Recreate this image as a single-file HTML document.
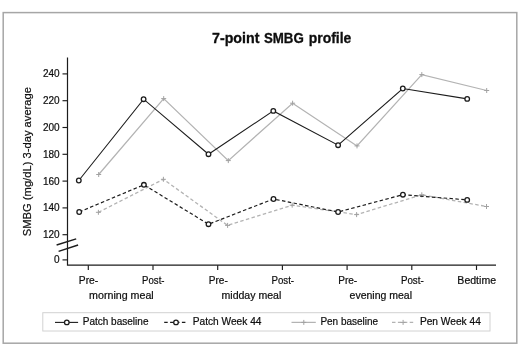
<!DOCTYPE html>
<html><head><meta charset="utf-8"><title>7-point SMBG profile</title>
<style>html,body{margin:0;padding:0;background:#fff}svg{display:block}text{font-family:"Liberation Sans",sans-serif;fill:#0d0d0d;stroke:#0d0d0d;stroke-width:0.2px;paint-order:stroke}</style></head><body>
<svg width="520" height="358" viewBox="0 0 520 358">
<rect x="0" y="0" width="520" height="358" fill="#fff"/>
<rect x="3.2" y="12.6" width="513.6" height="330.6" fill="#fff" stroke="#a6a6a6" stroke-width="1.5"/>
<text y="42.6" font-size="14.6" font-weight="bold" style="stroke-width:0.3px"><tspan x="212" textLength="47.4" lengthAdjust="spacingAndGlyphs">7-point</tspan> <tspan x="263.9" textLength="39.9" lengthAdjust="spacingAndGlyphs">SMBG</tspan> <tspan x="308.7" textLength="42.6" lengthAdjust="spacingAndGlyphs">profile</tspan></text>
<text transform="translate(31.3,161.6) rotate(-90)" text-anchor="middle" font-size="11.5" textLength="149.2" lengthAdjust="spacingAndGlyphs">SMBG (mg/dL) 3-day average</text>
<polyline points="98.7,174.5 163.7,98.6 228.3,160.6 292.6,103.2 357.0,145.9 421.8,74.6 486.7,90.5" fill="none" stroke="#b3b3b3" stroke-width="1.25"/>
<path d="M96.2 174.5H101.2M98.7 172.0V177.0" stroke="#a2a2a2" stroke-width="1.0" fill="none"/>
<path d="M161.2 98.6H166.2M163.7 96.1V101.1" stroke="#a2a2a2" stroke-width="1.0" fill="none"/>
<path d="M225.8 160.6H230.8M228.3 158.1V163.1" stroke="#a2a2a2" stroke-width="1.0" fill="none"/>
<path d="M290.1 103.2H295.1M292.6 100.7V105.7" stroke="#a2a2a2" stroke-width="1.0" fill="none"/>
<path d="M354.5 145.9H359.5M357.0 143.4V148.4" stroke="#a2a2a2" stroke-width="1.0" fill="none"/>
<path d="M419.3 74.6H424.3M421.8 72.1V77.1" stroke="#a2a2a2" stroke-width="1.0" fill="none"/>
<path d="M484.2 90.5H489.2M486.7 88.0V93.0" stroke="#a2a2a2" stroke-width="1.0" fill="none"/>
<polyline points="98.4,212.3 163.4,179.3 227.6,225.4 292.2,205.2 356.6,214.6 421.8,194.8 486.5,206.5" fill="none" stroke="#b3b3b3" stroke-width="1.3" stroke-dasharray="3.5 2.4"/>
<path d="M95.9 212.3H100.9M98.4 209.8V214.8" stroke="#a2a2a2" stroke-width="1.0" fill="none"/>
<path d="M160.9 179.3H165.9M163.4 176.8V181.8" stroke="#a2a2a2" stroke-width="1.0" fill="none"/>
<path d="M225.1 225.4H230.1M227.6 222.9V227.9" stroke="#a2a2a2" stroke-width="1.0" fill="none"/>
<path d="M289.7 205.2H294.7M292.2 202.7V207.7" stroke="#a2a2a2" stroke-width="1.0" fill="none"/>
<path d="M354.1 214.6H359.1M356.6 212.1V217.1" stroke="#a2a2a2" stroke-width="1.0" fill="none"/>
<path d="M419.3 194.8H424.3M421.8 192.3V197.3" stroke="#a2a2a2" stroke-width="1.0" fill="none"/>
<path d="M484.0 206.5H489.0M486.5 204.0V209.0" stroke="#a2a2a2" stroke-width="1.0" fill="none"/>
<polyline points="78.8,180.5 143.6,99.2 208.5,154.2 273.3,110.9 338.1,145.2 402.8,88.5 467.2,98.9" fill="none" stroke="#1c1c1c" stroke-width="1.1"/>
<circle cx="78.8" cy="180.5" r="2.3" fill="#fff" stroke="#1c1c1c" stroke-width="1.3"/>
<circle cx="143.6" cy="99.2" r="2.3" fill="#fff" stroke="#1c1c1c" stroke-width="1.3"/>
<circle cx="208.5" cy="154.2" r="2.3" fill="#fff" stroke="#1c1c1c" stroke-width="1.3"/>
<circle cx="273.3" cy="110.9" r="2.3" fill="#fff" stroke="#1c1c1c" stroke-width="1.3"/>
<circle cx="338.1" cy="145.2" r="2.3" fill="#fff" stroke="#1c1c1c" stroke-width="1.3"/>
<circle cx="402.8" cy="88.5" r="2.3" fill="#fff" stroke="#1c1c1c" stroke-width="1.3"/>
<circle cx="467.2" cy="98.9" r="2.3" fill="#fff" stroke="#1c1c1c" stroke-width="1.3"/>
<polyline points="79.2,212.0 143.9,184.8 208.5,224.2 273.5,199.0 338.1,212.0 402.9,194.7 467.2,199.9" fill="none" stroke="#1c1c1c" stroke-width="1.2" stroke-dasharray="3.5 2.4"/>
<circle cx="79.2" cy="212.0" r="2.3" fill="#fff" stroke="#1c1c1c" stroke-width="1.3"/>
<circle cx="143.9" cy="184.8" r="2.3" fill="#fff" stroke="#1c1c1c" stroke-width="1.3"/>
<circle cx="208.5" cy="224.2" r="2.3" fill="#fff" stroke="#1c1c1c" stroke-width="1.3"/>
<circle cx="273.5" cy="199.0" r="2.3" fill="#fff" stroke="#1c1c1c" stroke-width="1.3"/>
<circle cx="338.1" cy="212.0" r="2.3" fill="#fff" stroke="#1c1c1c" stroke-width="1.3"/>
<circle cx="402.9" cy="194.7" r="2.3" fill="#fff" stroke="#1c1c1c" stroke-width="1.3"/>
<circle cx="467.2" cy="199.9" r="2.3" fill="#fff" stroke="#1c1c1c" stroke-width="1.3"/>
<path d="M67.5 57.4V265.2H496" fill="none" stroke="#1c1c1c" stroke-width="1.2"/>
<path d="M62.5 73.9H67.5" stroke="#1c1c1c" stroke-width="1.15"/>
<text x="59.6" y="77.4" text-anchor="end" font-size="10">240</text>
<path d="M62.5 100.7H67.5" stroke="#1c1c1c" stroke-width="1.15"/>
<text x="59.6" y="104.2" text-anchor="end" font-size="10">220</text>
<path d="M62.5 127.5H67.5" stroke="#1c1c1c" stroke-width="1.15"/>
<text x="59.6" y="131.0" text-anchor="end" font-size="10">200</text>
<path d="M62.5 154.3H67.5" stroke="#1c1c1c" stroke-width="1.15"/>
<text x="59.6" y="157.8" text-anchor="end" font-size="10">180</text>
<path d="M62.5 181.1H67.5" stroke="#1c1c1c" stroke-width="1.15"/>
<text x="59.6" y="184.6" text-anchor="end" font-size="10">160</text>
<path d="M62.5 207.9H67.5" stroke="#1c1c1c" stroke-width="1.15"/>
<text x="59.6" y="211.4" text-anchor="end" font-size="10">140</text>
<path d="M62.5 234.7H67.5" stroke="#1c1c1c" stroke-width="1.15"/>
<text x="59.6" y="238.2" text-anchor="end" font-size="10">120</text>
<path d="M62.5 259.9H67.5" stroke="#1c1c1c" stroke-width="1.15"/>
<text x="59.6" y="263.4" text-anchor="end" font-size="10">0</text>
<path d="M56.6 245.0L76.2 238.8M58.6 251.3L78.1 245.0" stroke="#1c1c1c" stroke-width="1.4" fill="none"/>
<path d="M88.3 265.2V270" stroke="#1c1c1c" stroke-width="1.15"/>
<path d="M153.0 265.2V270" stroke="#1c1c1c" stroke-width="1.15"/>
<path d="M217.7 265.2V270" stroke="#1c1c1c" stroke-width="1.15"/>
<path d="M282.4 265.2V270" stroke="#1c1c1c" stroke-width="1.15"/>
<path d="M347.1 265.2V270" stroke="#1c1c1c" stroke-width="1.15"/>
<path d="M411.8 265.2V270" stroke="#1c1c1c" stroke-width="1.15"/>
<path d="M476.5 265.2V270" stroke="#1c1c1c" stroke-width="1.15"/>
<text x="88.5" y="283.7" text-anchor="middle" font-size="10" textLength="19.4" lengthAdjust="spacingAndGlyphs">Pre-</text>
<text x="153.3" y="283.7" text-anchor="middle" font-size="10" textLength="22.4" lengthAdjust="spacingAndGlyphs">Post-</text>
<text x="218.3" y="283.7" text-anchor="middle" font-size="10" textLength="19.0" lengthAdjust="spacingAndGlyphs">Pre-</text>
<text x="282.8" y="283.7" text-anchor="middle" font-size="10" textLength="22.6" lengthAdjust="spacingAndGlyphs">Post-</text>
<text x="347.7" y="283.7" text-anchor="middle" font-size="10" textLength="19.0" lengthAdjust="spacingAndGlyphs">Pre-</text>
<text x="412.3" y="283.7" text-anchor="middle" font-size="10" textLength="22.8" lengthAdjust="spacingAndGlyphs">Post-</text>
<text x="476.7" y="283.7" text-anchor="middle" font-size="10" textLength="38.7" lengthAdjust="spacingAndGlyphs">Bedtime</text>
<text x="121.4" y="298.8" text-anchor="middle" font-size="10" textLength="64.6" lengthAdjust="spacingAndGlyphs">morning meal</text>
<text x="251.4" y="298.8" text-anchor="middle" font-size="10" textLength="59.8" lengthAdjust="spacingAndGlyphs">midday meal</text>
<text x="380.8" y="298.8" text-anchor="middle" font-size="10" textLength="62.5" lengthAdjust="spacingAndGlyphs">evening meal</text>
<rect x="42.8" y="312.7" width="447.2" height="18.3" fill="#fff" stroke="#d2d2d2" stroke-width="1"/>
<path d="M55 322.4H78.1" stroke="#1c1c1c" stroke-width="1.1"/>
<circle cx="66.8" cy="322.4" r="2.3" fill="#fff" stroke="#1c1c1c" stroke-width="1.3"/>
<path d="M164.2 322.4H186" stroke="#1c1c1c" stroke-width="1.2" stroke-dasharray="3.5 2.4"/>
<circle cx="176.0" cy="322.4" r="2.3" fill="#fff" stroke="#1c1c1c" stroke-width="1.3"/>
<path d="M291.5 322.4H315.8" stroke="#b3b3b3" stroke-width="1.25"/>
<path d="M301.3 322.4H306.3M303.8 319.9V324.9" stroke="#a2a2a2" stroke-width="1.0" fill="none"/>
<path d="M392 322.4H414.2" stroke="#b3b3b3" stroke-width="1.3" stroke-dasharray="3.5 2.4"/>
<path d="M400.6 322.4H405.6M403.1 319.9V324.9" stroke="#a2a2a2" stroke-width="1.0" fill="none"/>
<text x="82.7" y="325.4" font-size="10" textLength="65.8" lengthAdjust="spacingAndGlyphs">Patch baseline</text>
<text x="192.7" y="325.4" font-size="10" textLength="68.8" lengthAdjust="spacingAndGlyphs">Patch Week 44</text>
<text x="320.4" y="325.4" font-size="10" textLength="57.7" lengthAdjust="spacingAndGlyphs">Pen baseline</text>
<text x="419.9" y="325.4" font-size="10" textLength="61.0" lengthAdjust="spacingAndGlyphs">Pen Week 44</text>
</svg></body></html>
